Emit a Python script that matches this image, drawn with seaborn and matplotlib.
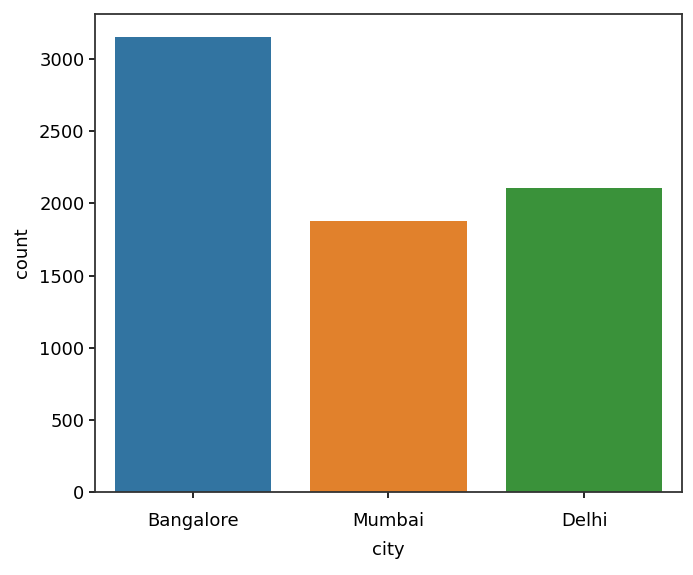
import matplotlib
matplotlib.use('Agg')
import matplotlib.pyplot as plt
import seaborn as sns
import pandas as pd

# ── Data ────────────────────────────────────────────────────
cities = ['Bangalore', 'Mumbai', 'Delhi']
counts = [3155, 1875, 2105]

df = pd.DataFrame({'city': cities, 'count': counts})

fig = plt.figure(figsize=(6.93, 5.75), dpi=100)
ax = fig.add_axes([0.137, 0.144, 0.847, 0.832])

sns.barplot(data=df, x='city', y='count', hue='city',
            palette='tab10', legend=False, ax=ax)
ax.set_xlabel('city', fontsize=13, labelpad=8)
ax.set_ylabel('count', fontsize=13, labelpad=6)
ax.tick_params(labelsize=13, width=1.2, length=4)
ax.tick_params(axis='x', pad=10)
ax.set_yticks([0, 500, 1000, 1500, 2000, 2500, 3000])
for s in ax.spines.values():
    s.set_linewidth(1.3)
    s.set_color('#333333')

fig.savefig('out.png', dpi=100)
